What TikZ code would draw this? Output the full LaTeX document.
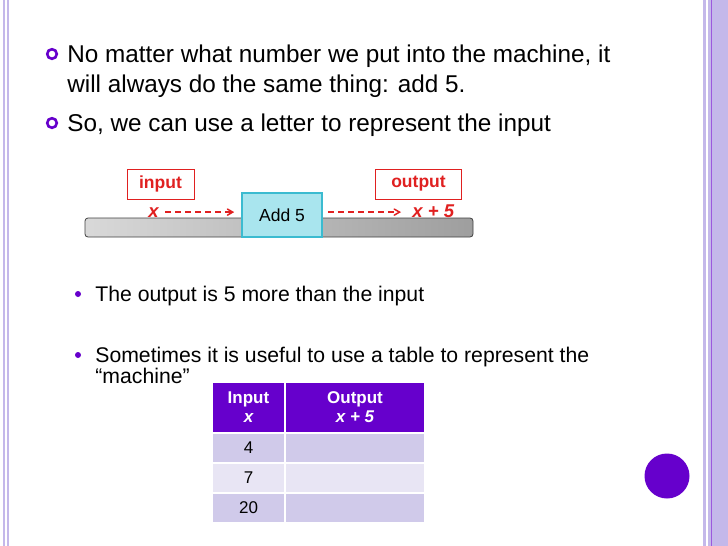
\documentclass[tikz,border=0pt]{standalone}
\usepackage{fontspec}
\setmainfont{Liberation Sans}
\usepackage{tikz}
\usetikzlibrary{arrows, positioning}

\definecolor{slidepurple}{HTML}{6600CC}
\definecolor{stripe}{HTML}{C4B8EA}
\definecolor{rowdark}{HTML}{D0CAEA}
\definecolor{rowlight}{HTML}{E8E5F4}
\definecolor{machinefill}{HTML}{A9E5EE}
\definecolor{machinedraw}{HTML}{3BBBD0}
\definecolor{labelred}{HTML}{E02020}

\tikzset{
	bigtext/.style={anchor=base west, inner sep=0pt, font=\fontsize{24.3}{28}\selectfont},
	smalltext/.style={anchor=base west, inner sep=0pt, font=\fontsize{21.2}{24}\selectfont},
	ring/.style={draw=slidepurple, line width=2.6pt},
	labelbox/.style={draw=labelred, fill=white, line width=0.8pt, text=labelred,
		minimum height=30, font=\fontsize{17.5}{20}\selectfont\bfseries},
	redlabel/.style={text=labelred, inner sep=1pt, font=\fontsize{18.5}{22}\selectfont\bfseries},
	machine/.style={draw=machinedraw, fill=machinefill, line width=1.6pt,
		minimum width=80, minimum height=44, font=\fontsize{17.5}{20}\selectfont},
	dasharrow/.style={->, >=angle 60, labelred, line width=1.5pt, dash pattern=on 6pt off 4pt},
	hcell/.style={fill=slidepurple, text=white, align=center, minimum height=49,
		font=\fontsize{17}{19}\selectfont\bfseries},
	cell/.style={minimum height=28, font=\fontsize{17}{20}\selectfont}
}

\begin{document}
\begin{tikzpicture}[x=1pt, y=-1pt, thick]
	\useasboundingbox[fill=white] (0,0) rectangle (728,546);

	% slide border stripes
	\fill[stripe] (3,0) rectangle (5,546);
	\fill[stripe] (6.5,0) rectangle (8.5,546);
	\fill[stripe] (703,0) rectangle (706,546);
	\fill[stripe] (708,0) rectangle (728,546);
	\fill[slidepurple!65] (710.5,0) rectangle (711.5,546);

	% top bullets
	\draw[ring] (52,54) circle (4.8);
	\draw[ring] (52,123) circle (4.8);
	\node[bigtext] (t1) at (67,62) {No matter what number we put into the machine, it};
	\node[bigtext] (t2) at (67,92) {will always do the same thing: add 5.};
	\node[bigtext] (t3) at (67,131) {So, we can use a letter to represent the input};

	% the machine
	\shade[left color=black!15, middle color=black!62, right color=black!38,
		draw=black!75, line width=0.8pt, rounded corners=3pt] (85,218) rectangle (473,237);
	\node[machine] (add) at (282,215) {Add 5};
	\node[labelbox, minimum width=67] (inbox) at (160.5,184) {input};
	\node[labelbox, minimum width=86] (outbox) at (418.5,184) {output};
	\node[redlabel, anchor=base] (xin) at (153.5,217) {\itshape x};
	\node[redlabel, anchor=base west] (xout) at (411,217) {\itshape x + 5};
	\draw[dasharrow, shorten <=5pt, shorten >=7pt] (xin) -- (xin -| add.west);
	\draw[dasharrow, shorten <=5pt, shorten >=10pt] (add.east |- xin) -- (xout.west |- xin);

	% sub bullets
	\fill[slidepurple] (78,294) circle (3);
	\fill[slidepurple] (78,355) circle (3);
	\node[smalltext] (s1) at (95,301) {The output is 5 more than the input};
	\node[smalltext] (s2) at (95,362) {Sometimes it is useful to use a table to represent the};
	\node[smalltext] (s3) at (95,383) {“machine”};

	% table
	\node[hcell, minimum width=71] (h1) at (248.5,407.5) {Input\\\itshape x};
	\node[hcell, minimum width=138] (h2) at (355,407.5) {Output\\\itshape x + 5};
	\foreach \val/\col [count=\i] in {4/rowdark, 7/rowlight, 20/rowdark} {
		\node[cell, fill=\col, minimum width=71] (r\i a) at (248.5,418+30*\i) {\val};
		\node[cell, fill=\col, minimum width=138] (r\i b) at (355,418+30*\i) {};
	}

	% corner dot
	\fill[slidepurple] (667,476) circle (22.5);
\end{tikzpicture}
\end{document}
